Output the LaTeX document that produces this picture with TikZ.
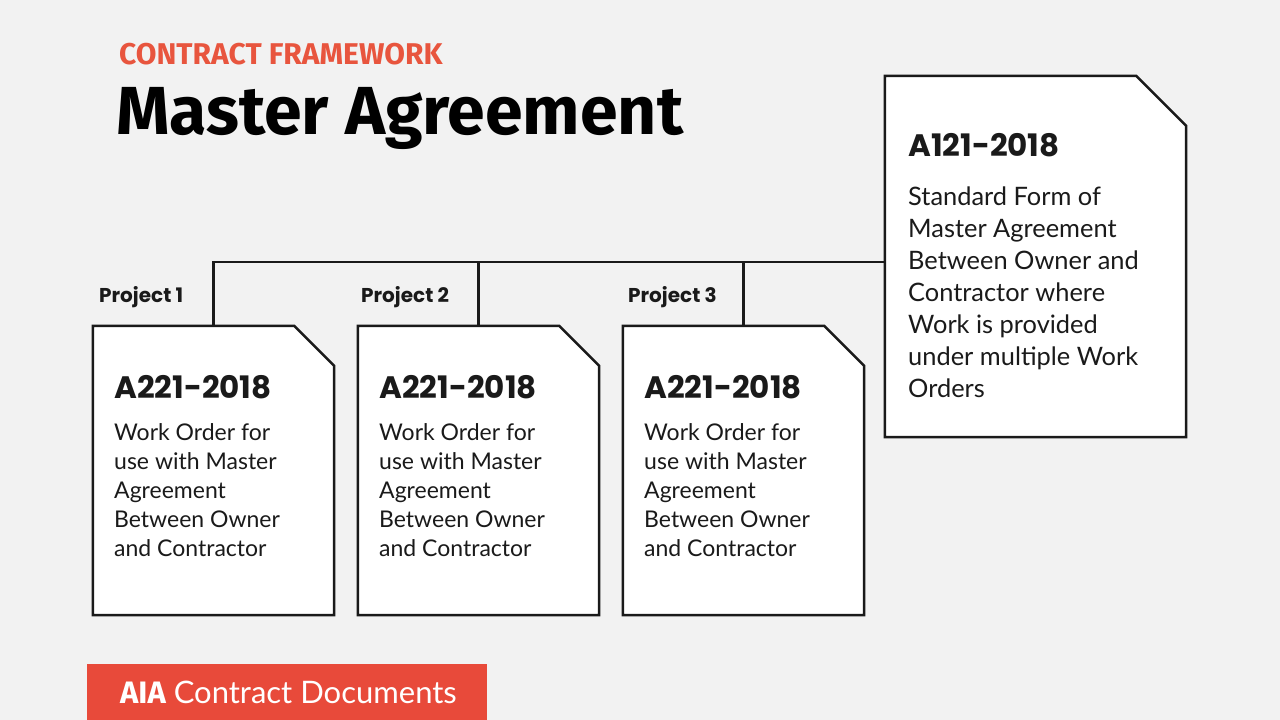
\documentclass[tikz,border=0pt]{standalone}
\usepackage{fontspec}
\setmainfont{Lato}
\newfontfamily\headfont{Fira Sans}
\newfontfamily\labfont{Poppins}
\definecolor{bg}{HTML}{F2F2F2}
\definecolor{accent}{HTML}{E8553E}
\definecolor{footred}{HTML}{E84A3A}
\definecolor{ink}{HTML}{1A1A1A}
\tikzset{
  docbox/.style={minimum width=#1, inner sep=0pt},
  docline/.style={draw=ink, line width=2.5pt, fill=white, line join=miter},
  conn/.style={draw=ink, line width=2.5pt},
  doctitle/.style={anchor=base west, inner sep=0pt, text=ink, font=\labfont\bfseries\fontsize{31}{31}\selectfont},
  docbody/.style={anchor=base west, inner sep=0pt, text=ink, align=left, font=\fontsize{23}{29}\selectfont},
  bigbody/.style={anchor=base west, inner sep=0pt, text=ink, align=left, font=\fontsize{25.4}{32}\selectfont},
  projlabel/.style={anchor=base west, inner sep=0pt, text=ink, font=\labfont\bfseries\fontsize{20}{20}\selectfont},
}
\begin{document}
\begin{tikzpicture}[x=1pt,y=-1pt]
\path[fill=bg] (0,0) rectangle (1280,720);
\useasboundingbox (0,0) rectangle (1280,720);

% heading
\node[anchor=base west, inner sep=0pt, text=accent, font=\headfont\bfseries\fontsize{30}{30}\selectfont] (kicker) at (119,64) {CONTRACT FRAMEWORK};
\node[anchor=base west, inner sep=0pt, text=black, font=\headfont\bfseries\fontsize{68}{68}\selectfont] (title) at (116,134) {Master Agreement};

% document nodes (invisible frames)
\node[docbox=241pt, minimum height=289pt] (d1) at (213.5,470.5) {};
\node[docbox=241pt, minimum height=289pt] (d2) at (478.5,470.5) {};
\node[docbox=241pt, minimum height=289pt] (d3) at (743.5,470.5) {};
\node[docbox=301pt, minimum height=361pt] (big) at (1035.5,256.5) {};

% connectors
\coordinate (bus) at (885,262);
\draw[conn] (d1.north) |- (bus);
\draw[conn] (d2.north) -- (d2.north |- bus);
\draw[conn] (d3.north) -- (d3.north |- bus);

% document shapes
\foreach \d/\c in {d1/40, d2/40, d3/40, big/50}{
  \draw[docline] (\d.north west) -- ([xshift=-\c pt]\d.north east) -- ([yshift=-\c pt]\d.north east) -- (\d.south east) -- (\d.south west) -- cycle;
}

% project labels
\node[projlabel] (p1) at (99,302) {Project 1};
\node[projlabel] (p2) at (361,302) {Project 2};
\node[projlabel] (p3) at (628,302) {Project 3};

% small documents text (anchor at last line baseline)
\foreach \d/\x in {d1/114, d2/379, d3/644}{
  \node[doctitle] (\d t) at (\x,398) {A221-2018};
  \node[docbody] (\d b) at (\x,556) {Work Order for\\use with Master\\Agreement\\Between Owner\\and Contractor};
}

% big document text
\node[doctitle] (bigt) at (908,156) {A121-2018};
\node[bigbody] (bigb) at (908,397) {Standard Form of\\Master Agreement\\Between Owner and\\Contractor where\\Work is provided\\under multiple Work\\Orders};

% footer
\path[fill=footred] (87,664) rectangle (487,720);
\node[anchor=base west, inner sep=0pt, text=white, font=\fontsize{31}{31}\selectfont] (foot) at (120,703) {{\headfont\bfseries AIA} Contract Documents};
\end{tikzpicture}
\end{document}
